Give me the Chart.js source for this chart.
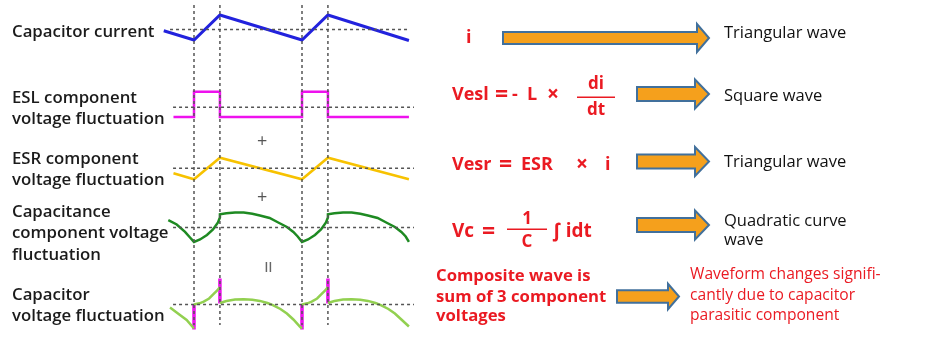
<!DOCTYPE html>
<html>
<head>
<meta charset="utf-8">
<script src="https://cdn.jsdelivr.net/npm/chart.js@4/dist/chart.umd.min.js"></script>
<style>
  html, body { margin: 0; padding: 0; background: #fff; }
  canvas { display: block; }
</style>
</head>
<body>
<canvas id="wave" width="940" height="347"></canvas>
<script>
// Time axis: one switching period = 1, edges at t = 0 and t = 0.24
const edgeTimes = [0, 0.24, 1, 1.24];

// Capacitor current (triangular)
const currentT = [-0.28, 0, 0.24, 1, 1.24, 1.99];
const currentV = [-1.2, -10.5, 14.5, -10.5, 14.5, -11];

// ESL component voltage (square)
const eslT = [-0.19, 0, 0, 0.24, 0.24, 1, 1, 1.24, 1.24, 1.99];
const eslV = [-9.7, -9.7, 15.6, 15.6, -9.7, -9.7, 15.6, 15.6, -9.7, -9.7];

// ESR component voltage (triangular)
const esrT = [-0.19, 0, 0.24, 1, 1.24, 1.99];
const esrV = [-5, -11, 10.6, -11, 10.6, -11];

// Capacitance component voltage (quadratic pieces)
const capT = [-0.238, -0.16, -0.083, -0.037, 0,
  0.056, 0.12, 0.176, 0.222, 0.24,
  0.24, 0.30, 0.38, 0.46, 0.54, 0.61, 0.70, 0.78, 0.86, 0.92, 0.96, 1.0,
  1.056, 1.12, 1.176, 1.222, 1.24,
  1.24, 1.30, 1.38, 1.46, 1.54, 1.61, 1.70, 1.78, 1.86, 1.92, 1.96, 1.99];
const capV = [7.3, 3, -4.4, -10, -14.4,
  -12, -7.5, -2, 5, 10,
  13.2, 14.2, 15.0, 15.0, 13.8, 12.0, 9.5, 5.0, 0.5, -4.5, -9.0, -14.4,
  -12, -7.5, -2, 5, 10,
  13.2, 14.2, 15.0, 15.0, 13.8, 12.0, 9.5, 5.0, 0.5, -4.5, -9.0, -14.4];

// Composite capacitor voltage (smooth part)
const compT = [-0.222, -0.13, -0.068, 0, null,
  0, 0.05, 0.09, 0.14, 0.18, 0.215, 0.24, null,
  0.24, 0.30, 0.38, 0.46, 0.54, 0.61, 0.68, 0.73, 0.80, 0.86, 0.92, 0.98, 1.0, null,
  1.0, 1.05, 1.09, 1.14, 1.18, 1.215, 1.24, null,
  1.24, 1.30, 1.38, 1.46, 1.54, 1.61, 1.68, 1.73, 1.80, 1.86, 1.92, 1.99];
const compV = [-3, -10.5, -15.5, -24, null,
  0, 1.2, 2.8, 6, 10.3, 14, 17.6, null,
  1.5, 3.5, 5, 5.3, 4.8, 3.6, 1.5, -0.7, -4.5, -9, -15, -22, -24, null,
  0, 1.2, 2.8, 6, 10.3, 14, 17.6, null,
  1.5, 3.5, 5, 5.3, 4.8, 3.6, 1.5, -0.7, -4.5, -9, -15, -22];

// ESL spikes in the composite wave: [time, from, to]
const spikes = [[0, 0, -25], [0.24, 1, 26], [1, 0, -25], [1.24, 1, 26]];

// Zero-line extents per panel
const zeroLines = [
  { axis: 'yI', t: [-0.222, 1.99] },
  { axis: 'yEsl', t: [-0.194, 2.037] },
  { axis: 'yEsr', t: [-0.194, 2.037] },
  { axis: 'yC', t: [-0.194, 2.037] },
  { axis: 'yV', t: [-0.194, 2.037] }
];

const H = 347;
const PX_PER_T = 108, T0_PX = 194;

function pts(ts, vs) {
  return ts.map((t, i) => ({ x: t, y: vs[i] }));
}

// panel axis: zero line sits at pixel y0, 1 unit = 1 px
function panelAxis(y0) {
  return { type: 'linear', display: false, min: y0 - H, max: y0 };
}

const datasets = [];

// vertical dashed guides at switching edges
const guideData = [];
edgeTimes.forEach(t => {
  guideData.push({ x: t, y: 5 }, { x: t, y: 325 }, { x: t, y: null });
});
datasets.push({
  data: guideData, yAxisID: 'yFrame', borderColor: '#555', borderWidth: 1.5,
  borderDash: [3, 3], spanGaps: false
});

zeroLines.forEach(z => {
  datasets.push({
    data: [{ x: z.t[0], y: 0 }, { x: z.t[1], y: 0 }], yAxisID: z.axis,
    borderColor: '#555', borderWidth: 1.5, borderDash: [3, 3]
  });
});

datasets.push({ data: pts(currentT, currentV), yAxisID: 'yI', borderColor: '#2222dd', borderWidth: 3 });
datasets.push({ data: pts(eslT, eslV), yAxisID: 'yEsl', borderColor: '#ee11ee', borderWidth: 2.5 });
datasets.push({ data: pts(esrT, esrV), yAxisID: 'yEsr', borderColor: '#f7c200', borderWidth: 2.5 });
datasets.push({ data: pts(capT, capV), yAxisID: 'yC', borderColor: '#1e8a22', borderWidth: 2.5 });
datasets.push({ data: pts(compT, compV), yAxisID: 'yV', borderColor: '#92d050', borderWidth: 2.5, spanGaps: false });

const spikeData = [];
spikes.forEach(s => {
  spikeData.push({ x: s[0], y: s[1] }, { x: s[0], y: s[2] }, { x: s[0], y: null });
});
datasets.push({ data: spikeData, yAxisID: 'yV', borderColor: '#ee11ee', borderWidth: 3.5, spanGaps: false });

datasets.forEach(d => {
  d.showLine = true;
  d.pointRadius = 0;
  d.fill = false;
  d.tension = 0;
});

// Annotation layout (text and block arrows)
const RED = '#ea1a22';
const leftLabels = [
  ['Capacitor current', 32],
  ['ESL component', 98], ['voltage fluctuation', 119],
  ['ESR component', 159], ['voltage fluctuation', 180],
  ['Capacitance', 212], ['component voltage', 233], ['fluctuation', 255],
  ['Capacitor', 295], ['voltage fluctuation', 316]
];
const rightLabels = [
  ['Triangular wave', 33], ['Square wave', 96], ['Triangular wave', 162],
  ['Quadratic curve', 221], ['wave', 240]
];
const arrows = [
  { x0: 503, hx: 697, tip: 709, cy: 38, sh: 6, hh: 14 },
  { x0: 637, hx: 695, tip: 709, cy: 94, sh: 7, hh: 14.5 },
  { x0: 637, hx: 695, tip: 709, cy: 161.5, sh: 7, hh: 14.5 },
  { x0: 637, hx: 695, tip: 709, cy: 225, sh: 7, hh: 14.5 },
  { x0: 617, hx: 668, tip: 679, cy: 296.5, sh: 6.3, hh: 12.7 }
];

function txt(ctx, s, x, y, font, color, align) {
  ctx.font = font;
  ctx.fillStyle = color;
  ctx.textAlign = align || 'left';
  ctx.textBaseline = 'middle';
  ctx.fillText(s, x, y);
}

const annotations = {
  id: 'annotations',
  beforeDraw(chart) {
    const ctx = chart.ctx;
    ctx.save();
    ctx.fillStyle = '#fff';
    ctx.fillRect(0, 0, chart.width, chart.height);
    ctx.restore();
  },
  afterDatasetsDraw(chart) {
    const ctx = chart.ctx;
    ctx.save();
    const labelFont = '600 16.8px "Open Sans"';
    leftLabels.forEach(l => txt(ctx, l[0], 12, l[1], labelFont, '#1b1b1b'));

    // operators between panels
    const xs = chart.scales.x;
    const midX = xs.getPixelForValue(0.63);
    txt(ctx, '+', midX, 142, '18px "Open Sans"', '#555', 'center');
    txt(ctx, '+', midX, 198, '18px "Open Sans"', '#555', 'center');
    ctx.save();
    ctx.translate(xs.getPixelForValue(0.68), 267);
    ctx.rotate(Math.PI / 2);
    txt(ctx, '=', 0, 0, '22px "Open Sans"', '#666', 'center');
    ctx.restore();

    // arrows
    arrows.forEach(a => {
      ctx.beginPath();
      ctx.moveTo(a.x0, a.cy - a.sh);
      ctx.lineTo(a.hx, a.cy - a.sh);
      ctx.lineTo(a.hx, a.cy - a.hh);
      ctx.lineTo(a.tip, a.cy);
      ctx.lineTo(a.hx, a.cy + a.hh);
      ctx.lineTo(a.hx, a.cy + a.sh);
      ctx.lineTo(a.x0, a.cy + a.sh);
      ctx.closePath();
      ctx.fillStyle = '#f5a01c';
      ctx.fill();
      ctx.lineWidth = 2;
      ctx.strokeStyle = '#41709c';
      ctx.lineJoin = 'miter';
      ctx.stroke();
    });

    // formulas
    const F = 'bold 18px "Open Sans"';
    const Fs = 'bold 17px "Open Sans"';
    const Fx = 'bold 21px "Open Sans"';
    txt(ctx, 'i', 466, 38, F, RED);

    txt(ctx, 'Vesl', 452, 95, F, RED);
    txt(ctx, '=', 495, 95, 'bold 23px "Open Sans"', RED);
    txt(ctx, '-', 512, 95, F, RED);
    txt(ctx, 'L', 527, 95, F, RED);
    txt(ctx, '×', 547, 95, Fx, RED);
    txt(ctx, 'di', 596, 84, Fs, RED, 'center');
    txt(ctx, 'dt', 596, 110, Fs, RED, 'center');
    ctx.fillStyle = RED;
    ctx.fillRect(577, 96.5, 38, 1.5);

    txt(ctx, 'Vesr', 452, 165, F, RED);
    txt(ctx, '=', 499, 165, 'bold 23px "Open Sans"', RED);
    txt(ctx, 'ESR', 521, 165, F, RED);
    txt(ctx, '×', 576, 165, Fx, RED);
    txt(ctx, 'i', 605, 165, F, RED);

    txt(ctx, 'Vc', 452, 232, 'bold 19px "Open Sans"', RED);
    txt(ctx, '=', 482, 232, 'bold 23px "Open Sans"', RED);
    txt(ctx, '1', 527, 219, Fs, RED, 'center');
    txt(ctx, 'C', 527, 242, Fs, RED, 'center');
    ctx.fillStyle = RED;
    ctx.fillRect(507, 228.5, 40, 1.5);
    txt(ctx, '∫ idt', 553, 232, 'bold 19px "Open Sans"', RED);

    // right-hand descriptions
    rightLabels.forEach(l => txt(ctx, l[0], 724, l[1], '16.5px "Open Sans"', '#111'));

    const Fb = 'bold 16.7px "Open Sans"';
    txt(ctx, 'Composite wave is', 436, 276, Fb, RED);
    txt(ctx, 'sum of 3 component', 436, 297, Fb, RED);
    txt(ctx, 'voltages', 436, 316, Fb, RED);

    const Fn = '15.6px "Open Sans"';
    txt(ctx, 'Waveform changes signifi-', 690, 275, Fn, RED);
    txt(ctx, 'cantly due to capacitor', 690, 296, Fn, RED);
    txt(ctx, 'parasitic component', 690, 316, Fn, RED);
    ctx.restore();
  }
};

new Chart(document.getElementById('wave'), {
  type: 'scatter',
  data: { datasets },
  options: {
    responsive: false,
    animation: false,
    layout: { padding: 0 },
    plugins: { legend: { display: false }, tooltip: { enabled: false } },
    elements: { line: { borderCapStyle: 'butt', borderJoinStyle: 'miter' } },
    scales: {
      x: { type: 'linear', display: false, min: -T0_PX / PX_PER_T, max: (940 - T0_PX) / PX_PER_T },
      y: { type: 'linear', display: false },
      yFrame: { type: 'linear', display: false, min: 0, max: H, reverse: true },
      yI: panelAxis(29.5),
      yEsl: panelAxis(107.3),
      yEsr: panelAxis(168.3),
      yC: panelAxis(227.5),
      yV: panelAxis(304.5)
    }
  },
  plugins: [annotations]
});
</script>
</body>
</html>
